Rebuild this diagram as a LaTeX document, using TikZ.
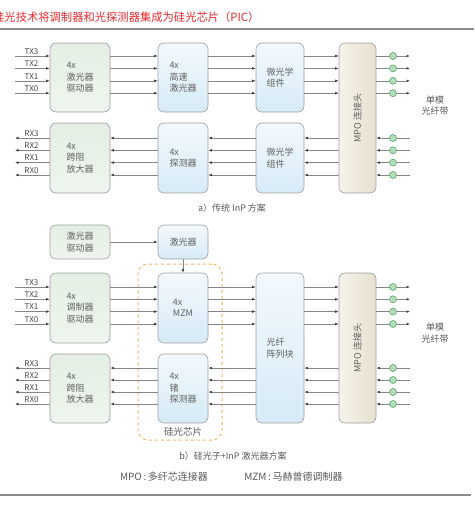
\documentclass[tikz,border=0pt]{standalone}
\usepackage{fontspec}
\setmainfont{Noto Sans CJK SC}
\usetikzlibrary{arrows.meta}
\definecolor{gbtop}{HTML}{E4EFE4}
\definecolor{gbbot}{HTML}{EEF5EE}
\definecolor{bbtop}{HTML}{F3F9FD}
\definecolor{bbbot}{HTML}{D6EAF7}
\definecolor{mpL}{HTML}{F6F3EA}
\definecolor{mpR}{HTML}{E6E0CF}
\definecolor{dotd}{HTML}{5AA66C}
\definecolor{dotf}{HTML}{B4DEBA}
\definecolor{titlered}{HTML}{E52A2F}
\definecolor{chipor}{HTML}{F2B465}
\begin{document}
\begin{tikzpicture}[x=1pt,y=-1pt]
\tikzset{
 ln/.style={draw=black!48, line width=0.6pt},
 arr/.style={ln, -{Latex[length=3.5pt,width=2.6pt,color=black!75]}},
 box/.style={draw=black!38, line width=0.6pt, rounded corners=6pt, inner sep=0pt, align=left,
   font=\fontsize{9}{11.5}\selectfont, text=black!62},
 gbox/.style={box, top color=gbtop, bottom color=gbbot},
 bbox/.style={box, top color=bbtop, bottom color=bbbot},
 mbox/.style={box, left color=mpL, right color=mpR},
 dot/.style={circle, draw=dotd, fill=dotf, line width=0.6pt, minimum size=7pt, inner sep=0pt},
 lbl/.style={font=\fontsize{8}{9}\selectfont, text=black!72, inner sep=0.5pt},
 captxt/.style={font=\fontsize{9}{10}\selectfont, text=black!65},
}
\useasboundingbox (0,0) rectangle (474,506);
% title and rules
\node[anchor=west, inner sep=0pt, text=titlered, font=\fontsize{11.3}{12}\selectfont] (title) at (-7,17) {硅光技术将调制器和光探测器集成为硅光芯片（PIC）};
\draw[black!45, line width=1.3pt] (0,29) -- (474,29);
\draw[black!45, line width=1.3pt] (0,495) -- (471,495);

\coordinate (inA) at (15,0);
\coordinate (outA) at (410,0);

% ---------- part a ----------
\node[gbox, minimum width=60pt, minimum height=69pt] (drvA) at (80,77.5) {4x\\激光器\\驱动器};
\node[bbox, minimum width=50pt, minimum height=69pt] (lasA) at (183,77.5) {4x\\高速\\激光器};
\node[bbox, minimum width=48pt, minimum height=69pt] (moA) at (280,77.5) {微光学\\组件};
\node[mbox, minimum width=37pt, minimum height=150pt] (mpoA) at (357.5,118) {};
\node[rotate=90, font=\fontsize{9}{10}\selectfont, text=black!62] (mpoAt) at (mpoA.center) {MPO 连接头};
\node[gbox, minimum width=60pt, minimum height=70pt] (tiaA) at (80,158) {4x\\跨阻\\放大器};
\node[bbox, minimum width=50pt, minimum height=70pt] (pdA) at (183,158) {4x\\探测器};
\node[bbox, minimum width=48pt, minimum height=70pt] (mo2A) at (280,158) {微光学\\组件};

\foreach \y/\t [count=\i] in {56/3,68.4/2,80.8/1,93.2/0} {
  \draw[arr] (inA |- 0,\y) -- (drvA.west |- 0,\y);
  \draw[arr] (drvA.east |- 0,\y) -- (lasA.west |- 0,\y);
  \draw[arr] (lasA.east |- 0,\y) -- (moA.west |- 0,\y);
  \draw[arr] (moA.east |- 0,\y) -- (mpoA.west |- 0,\y);
  \draw[arr] (mpoA.east |- 0,\y) -- (outA |- 0,\y);
  \node[dot] (dtA\i) at (393,\y) {};
  \node[lbl, anchor=south] (txA\i) at (31.5,\y-1) {TX\t};
}
\foreach \y/\t [count=\i] in {138/3,150.3/2,162.6/1,175/0} {
  \draw[arr] (outA |- 0,\y) -- (mpoA.east |- 0,\y);
  \draw[arr] (mpoA.west |- 0,\y) -- (mo2A.east |- 0,\y);
  \draw[arr] (mo2A.west |- 0,\y) -- (pdA.east |- 0,\y);
  \draw[arr] (pdA.west |- 0,\y) -- (tiaA.east |- 0,\y);
  \draw[arr] (tiaA.west |- 0,\y) -- (inA |- 0,\y);
  \node[dot] (drA\i) at (393,\y) {};
  \node[lbl, anchor=south] (rxA\i) at (31.5,\y-1) {RX\t};
}
\node[captxt, align=center, font=\fontsize{9}{11.5}\selectfont] (smfA) at (435,105.5) {单模\\光纤带};
\node[captxt] (capA) at (232,208) {a）传统 InP 方案};

% ---------- part b ----------
\node[draw=chipor, dashed, line width=1pt, rounded corners=10pt, minimum width=84pt, minimum height=176pt, inner sep=0pt] (chip) at (180,352) {};
\node[captxt, font=\fontsize{9.5}{10}\selectfont] (chipt) at (183,432) {硅光芯片};

\node[gbox, minimum width=60pt, minimum height=34pt, align=center] (ldB) at (80,242) {激光器\\驱动器};
\node[bbox, minimum width=50pt, minimum height=34pt] (lasB) at (183,242) {激光器};
\draw[arr] (ldB) -- (lasB);
\node[gbox, minimum width=60pt, minimum height=70pt] (mdB) at (80,308) {4x\\调制器\\驱动器};
\node[bbox, minimum width=50pt, minimum height=70pt] (mzm) at (183,308) {4x\\MZM};
\draw[arr] (lasB) -- (mzm);
\node[bbox, minimum width=48pt, minimum height=150pt] (faB) at (280,348) {光纤\\阵列块};
\node[mbox, minimum width=37pt, minimum height=150pt] (mpoB) at (357.5,348) {};
\node[rotate=90, font=\fontsize{9}{10}\selectfont, text=black!62] (mpoBt) at (mpoB.center) {MPO 连接头};
\node[gbox, minimum width=60pt, minimum height=69pt] (tiaB) at (80,388.5) {4x\\跨阻\\放大器};
\node[bbox, minimum width=50pt, minimum height=69pt] (geB) at (183,388.5) {4x\\锗\\探测器};

\foreach \y/\t [count=\i] in {287/3,299.3/2,311.6/1,324/0} {
  \draw[arr] (inA |- 0,\y) -- (mdB.west |- 0,\y);
  \draw[arr] (mdB.east |- 0,\y) -- (mzm.west |- 0,\y);
  \draw[arr] (mzm.east |- 0,\y) -- (faB.west |- 0,\y);
  \draw[arr] (faB.east |- 0,\y) -- (mpoB.west |- 0,\y);
  \draw[arr] (mpoB.east |- 0,\y) -- (outA |- 0,\y);
  \node[dot] (dtB\i) at (393,\y) {};
  \node[lbl, anchor=south] (txB\i) at (31.5,\y-1) {TX\t};
}
\foreach \y/\t [count=\i] in {368/3,380/2,392/1,404/0} {
  \draw[arr] (outA |- 0,\y) -- (mpoB.east |- 0,\y);
  \draw[arr] (mpoB.west |- 0,\y) -- (faB.east |- 0,\y);
  \draw[arr] (faB.west |- 0,\y) -- (geB.east |- 0,\y);
  \draw[arr] (geB.west |- 0,\y) -- (tiaB.east |- 0,\y);
  \draw[arr] (tiaB.west |- 0,\y) -- (inA |- 0,\y);
  \node[dot] (drB\i) at (393,\y) {};
  \node[lbl, anchor=south] (rxB\i) at (31.5,\y-1) {RX\t};
}
\node[captxt, align=center, font=\fontsize{9}{11.5}\selectfont] (smfB) at (435,333) {单模\\光纤带};
\node[captxt] (capB) at (233,456) {b）硅光子+InP 激光器方案};
\node[captxt, font=\fontsize{10}{11}\selectfont] (legA) at (164,477) {MPO\,:\,多纤芯连接器};
\node[captxt, font=\fontsize{10}{11}\selectfont] (legB) at (293.5,477) {MZM\,:\,马赫曾德调制器};
\end{tikzpicture}
\end{document}
